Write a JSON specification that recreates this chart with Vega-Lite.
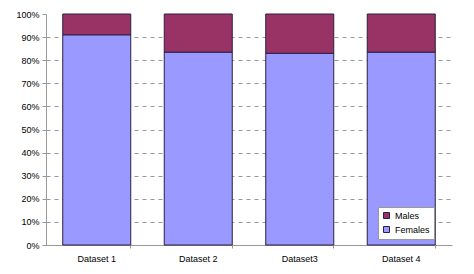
{
  "$schema": "https://vega.github.io/schema/vega-lite/v6.json",
  "width": 406,
  "height": 231,
  "autosize": {"type": "none"},
  "padding": {"left": 46, "top": 14, "right": 22, "bottom": 29},
  "background": "white",
  "config": {
    "view": {"stroke": null},
    "font": "Liberation Sans"
  },
  "data": {
    "values": [
      {"dataset": "Dataset 1", "sex": "Females", "share": 0.91},
      {"dataset": "Dataset 1", "sex": "Males", "share": 0.09},
      {"dataset": "Dataset 2", "sex": "Females", "share": 0.835},
      {"dataset": "Dataset 2", "sex": "Males", "share": 0.165},
      {"dataset": "Dataset3", "sex": "Females", "share": 0.83},
      {"dataset": "Dataset3", "sex": "Males", "share": 0.17},
      {"dataset": "Dataset 4", "sex": "Females", "share": 0.835},
      {"dataset": "Dataset 4", "sex": "Males", "share": 0.165}
    ]
  },
  "transform": [
    {"calculate": "datum.sex === 'Females' ? 0 : 1", "as": "ord"}
  ],
  "mark": {"type": "bar", "stroke": "#2a2040", "strokeWidth": 1},
  "encoding": {
    "x": {
      "field": "dataset",
      "type": "nominal",
      "sort": null,
      "scale": {"paddingInner": 0.33, "paddingOuter": 0.165},
      "axis": {
        "title": null,
        "labelAngle": 0,
        "labelFontSize": 9,
        "labelColor": "#000",
        "labelPadding": 6,
        "domainColor": "#999",
        "tickColor": "#999",
        "tickSize": 3,
        "ticks": true,
        "bandPosition": 1
      }
    },
    "y": {
      "field": "share",
      "type": "quantitative",
      "stack": "zero",
      "scale": {"domain": [0, 1], "nice": false},
      "axis": {
        "title": null,
        "format": ".0%",
        "values": [0, 0.1, 0.2, 0.3, 0.4, 0.5, 0.6, 0.7, 0.8, 0.9, 1],
        "labelFontSize": 9,
        "labelColor": "#000",
        "labelPadding": 3,
        "domainColor": "#999",
        "tickColor": "#999",
        "tickSize": 4,
        "grid": true,
        "gridDash": [4, 4],
        "gridColor": "#999",
        "gridOpacity": {"condition": {"test": "datum.value >= 1 || datum.value <= 0", "value": 0}, "value": 1}
      }
    },
    "color": {
      "field": "sex",
      "type": "nominal",
      "scale": {"domain": ["Males", "Females"], "range": ["#993366", "#9999ff"]},
      "legend": {
        "title": null,
        "orient": "none",
        "legendX": 332,
        "legendY": 193,
        "symbolType": "square",
        "symbolSize": 36,
        "symbolStrokeColor": "#2a2040",
        "symbolStrokeWidth": 1,
        "labelFontSize": 9,
        "rowPadding": 3,
        "padding": 4,
        "fillColor": "white",
        "strokeColor": "#999"
      }
    },
    "order": {"field": "ord", "type": "quantitative"}
  }
}
